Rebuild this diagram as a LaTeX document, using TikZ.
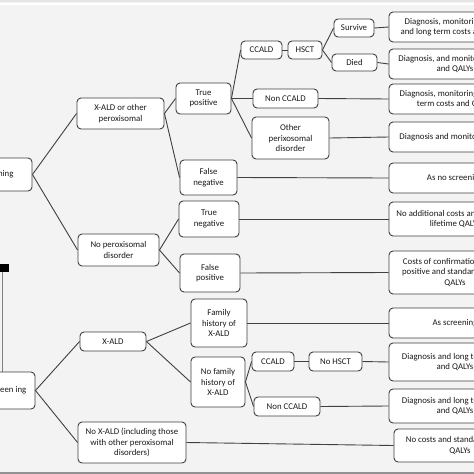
\documentclass[tikz,border=0pt]{standalone}
\usepackage{fontspec}
\setmainfont{Carlito}
\definecolor{paper}{HTML}{F3F3F3}
\definecolor{edgegrey}{HTML}{404040}
\definecolor{ink}{HTML}{1A1A1A}
\newcommand{\outX}{455}
\newcommand{\outW}{132}
\tikzset{box/.style={draw=edgegrey,fill=white,rounded corners=4pt,line width=0.9pt,inner sep=0pt,align=center,text=ink,font=\fontsize{8.8}{10.5}\selectfont},
  link/.style={draw=edgegrey,line width=0.9pt}}

\begin{document}
\begin{tikzpicture}[x=1pt,y=-1pt]
\useasboundingbox (0,0) rectangle (474,474);
\clip (0,0) rectangle (474,474);
\fill[paper] (0,0) rectangle (474,474);
\fill[gray!20] (0,0) rectangle (474,2);
\fill[white] (0,2.5) rectangle (474,4.5);
\fill[gray!85] (0,472) rectangle (474,474);
\node[fill=black,inner sep=0pt,minimum width=12,minimum height=8] (decide) at (2.5,268) {};
\coordinate (noscrtop) at (2.5,372);
\draw[gray,line width=1.2pt] (decide.south) -- (noscrtop);
\node[box,minimum width=72,minimum height=33] (scr) at (-4,174.5) {Screening};
\node[box,minimum width=87,minimum height=31] (xoth) at (120.5,113.5) {X-ALD or other\\peroxisomal};
\node[box,minimum width=81,minimum height=32] (nop) at (118.5,250) {No peroxisomal\\disorder};
\node[box,minimum width=55,minimum height=31] (tp) at (203.5,98.5) {True\\positive};
\node[box,minimum width=57,minimum height=35] (fn) at (208.5,177.5) {False\\negative};
\node[box,minimum width=60,minimum height=36] (tn) at (209,219) {True\\negative};
\node[box,minimum width=60,minimum height=38] (fp) at (210,273) {False\\positive};
\node[box,minimum width=41,minimum height=18] (ccald) at (261.5,50) {CCALD};
\node[box,minimum width=34,minimum height=18] (hsct) at (305,50) {HSCT};
\node[box,minimum width=40,minimum height=18] (surv) at (354,28) {Survive};
\node[box,minimum width=45,minimum height=17] (died) at (354.5,62.5) {Died};
\node[box,minimum width=65,minimum height=19] (nonc) at (285.5,98.5) {Non CCALD};
\node[box,minimum width=77,minimum height=42] (other) at (290.5,138) {Other\\perixosomal\\disorder};
\node[box,minimum width=\outW,minimum height=30] (outsurv) at (\outX,27) {Diagnosis, monitoring, HSCT\\and long term costs and QALYs};
\node[box,minimum width=\outW,minimum height=30] (outdied) at (\outX,64) {Diagnosis, and monitoring costs\\and QALYs};
\node[box,minimum width=\outW,minimum height=30] (outnonc) at (\outX,99) {Diagnosis, monitoring and long\\term costs and QALYs};
\node[box,minimum width=\outW,minimum height=30] (outother) at (\outX,137) {Diagnosis and monitoring costs};
\node[box,minimum width=\outW,minimum height=30] (outfn) at (\outX,178) {As no screening};
\node[box,minimum width=\outW,minimum height=34] (outtn) at (\outX,219) {No additional costs and standard\\lifetime QALYs};
\node[box,minimum width=\outW,minimum height=43] (outfp) at (\outX,272.5) {Costs of confirmation of false\\positive and standard lifetime\\QALYs};
\node[box,minimum width=66,minimum height=37] (noscr) at (2,390.5) {No screen ing};
\node[box,minimum width=66,minimum height=19] (xald) at (113,341.5) {X-ALD};
\node[box,minimum width=108,minimum height=41] (nox) at (132,442.5) {No X-ALD (including those\\with other peroxisomal\\disorders)};
\node[box,minimum width=56,minimum height=48] (fam) at (219,323) {Family\\history of\\X-ALD};
\node[box,minimum width=54,minimum height=50] (nofam) at (218,382) {No family\\history of\\X-ALD};
\node[box,minimum width=42,minimum height=19] (ccaldb) at (273,361.5) {CCALD};
\node[box,minimum width=53,minimum height=19] (nohsct) at (335.5,361.5) {No HSCT};
\node[box,minimum width=66,minimum height=19] (noncb) at (287,406.5) {Non CCALD};
\node[box,minimum width=\outW,minimum height=30] (outfam) at (\outX,323) {As screening};
\node[box,minimum width=\outW,minimum height=38] (outnohsct) at (\outX,362) {Diagnosis and long term costs\\and QALYs};
\node[box,minimum width=\outW,minimum height=34] (outnoncb) at (\outX,406) {Diagnosis and long term costs\\and QALYs};
\node[box,minimum width=\outW,minimum height=33] (outnox) at (460,445.5) {No costs and standard lifetime\\QALYs};
\draw[link] (scr.east) -- (xoth.west);
\draw[link] (scr.east) -- (nop.west);
\draw[link] (xoth.east) -- (tp.west);
\draw[link] (xoth.east) -- (fn.west);
\draw[link] (nop.east) -- (tn.west);
\draw[link] (nop.east) -- (fp.west);
\draw[link] (tp.east) -- (ccald.west);
\draw[link] (tp.east) -- (nonc.west);
\draw[link] (tp.east) -- (other.west);
\draw[link] (ccald.east) -- (hsct.west);
\draw[link] (hsct.east) -- (surv.west);
\draw[link] (hsct.east) -- (died.west);
\draw[link] (surv.east) -- (outsurv.west);
\draw[link] (died.east) -- (outdied.west);
\draw[link] (nonc.east) -- (outnonc.west);
\draw[link] (other.east) -- (outother.west);
\draw[link] (fn.east) -- (outfn.west);
\draw[link] (tn.east) -- (outtn.west);
\draw[link] (fp.east) -- (outfp.west);
\draw[link] (noscr.east) -- (xald.west);
\draw[link] (noscr.east) -- (nox.west);
\draw[link] (xald.east) -- (fam.west);
\draw[link] (xald.east) -- (nofam.west);
\draw[link] (nofam.east) -- (ccaldb.west);
\draw[link] (nofam.east) -- (noncb.west);
\draw[link] (ccaldb.east) -- (nohsct.west);
\draw[link] (fam.east) -- (outfam.west);
\draw[link] (nohsct.east) -- (outnohsct.west);
\draw[link] (noncb.east) -- (outnoncb.west);
\draw[link] (nox.east) -- (outnox.west);
\end{tikzpicture}
\end{document}
